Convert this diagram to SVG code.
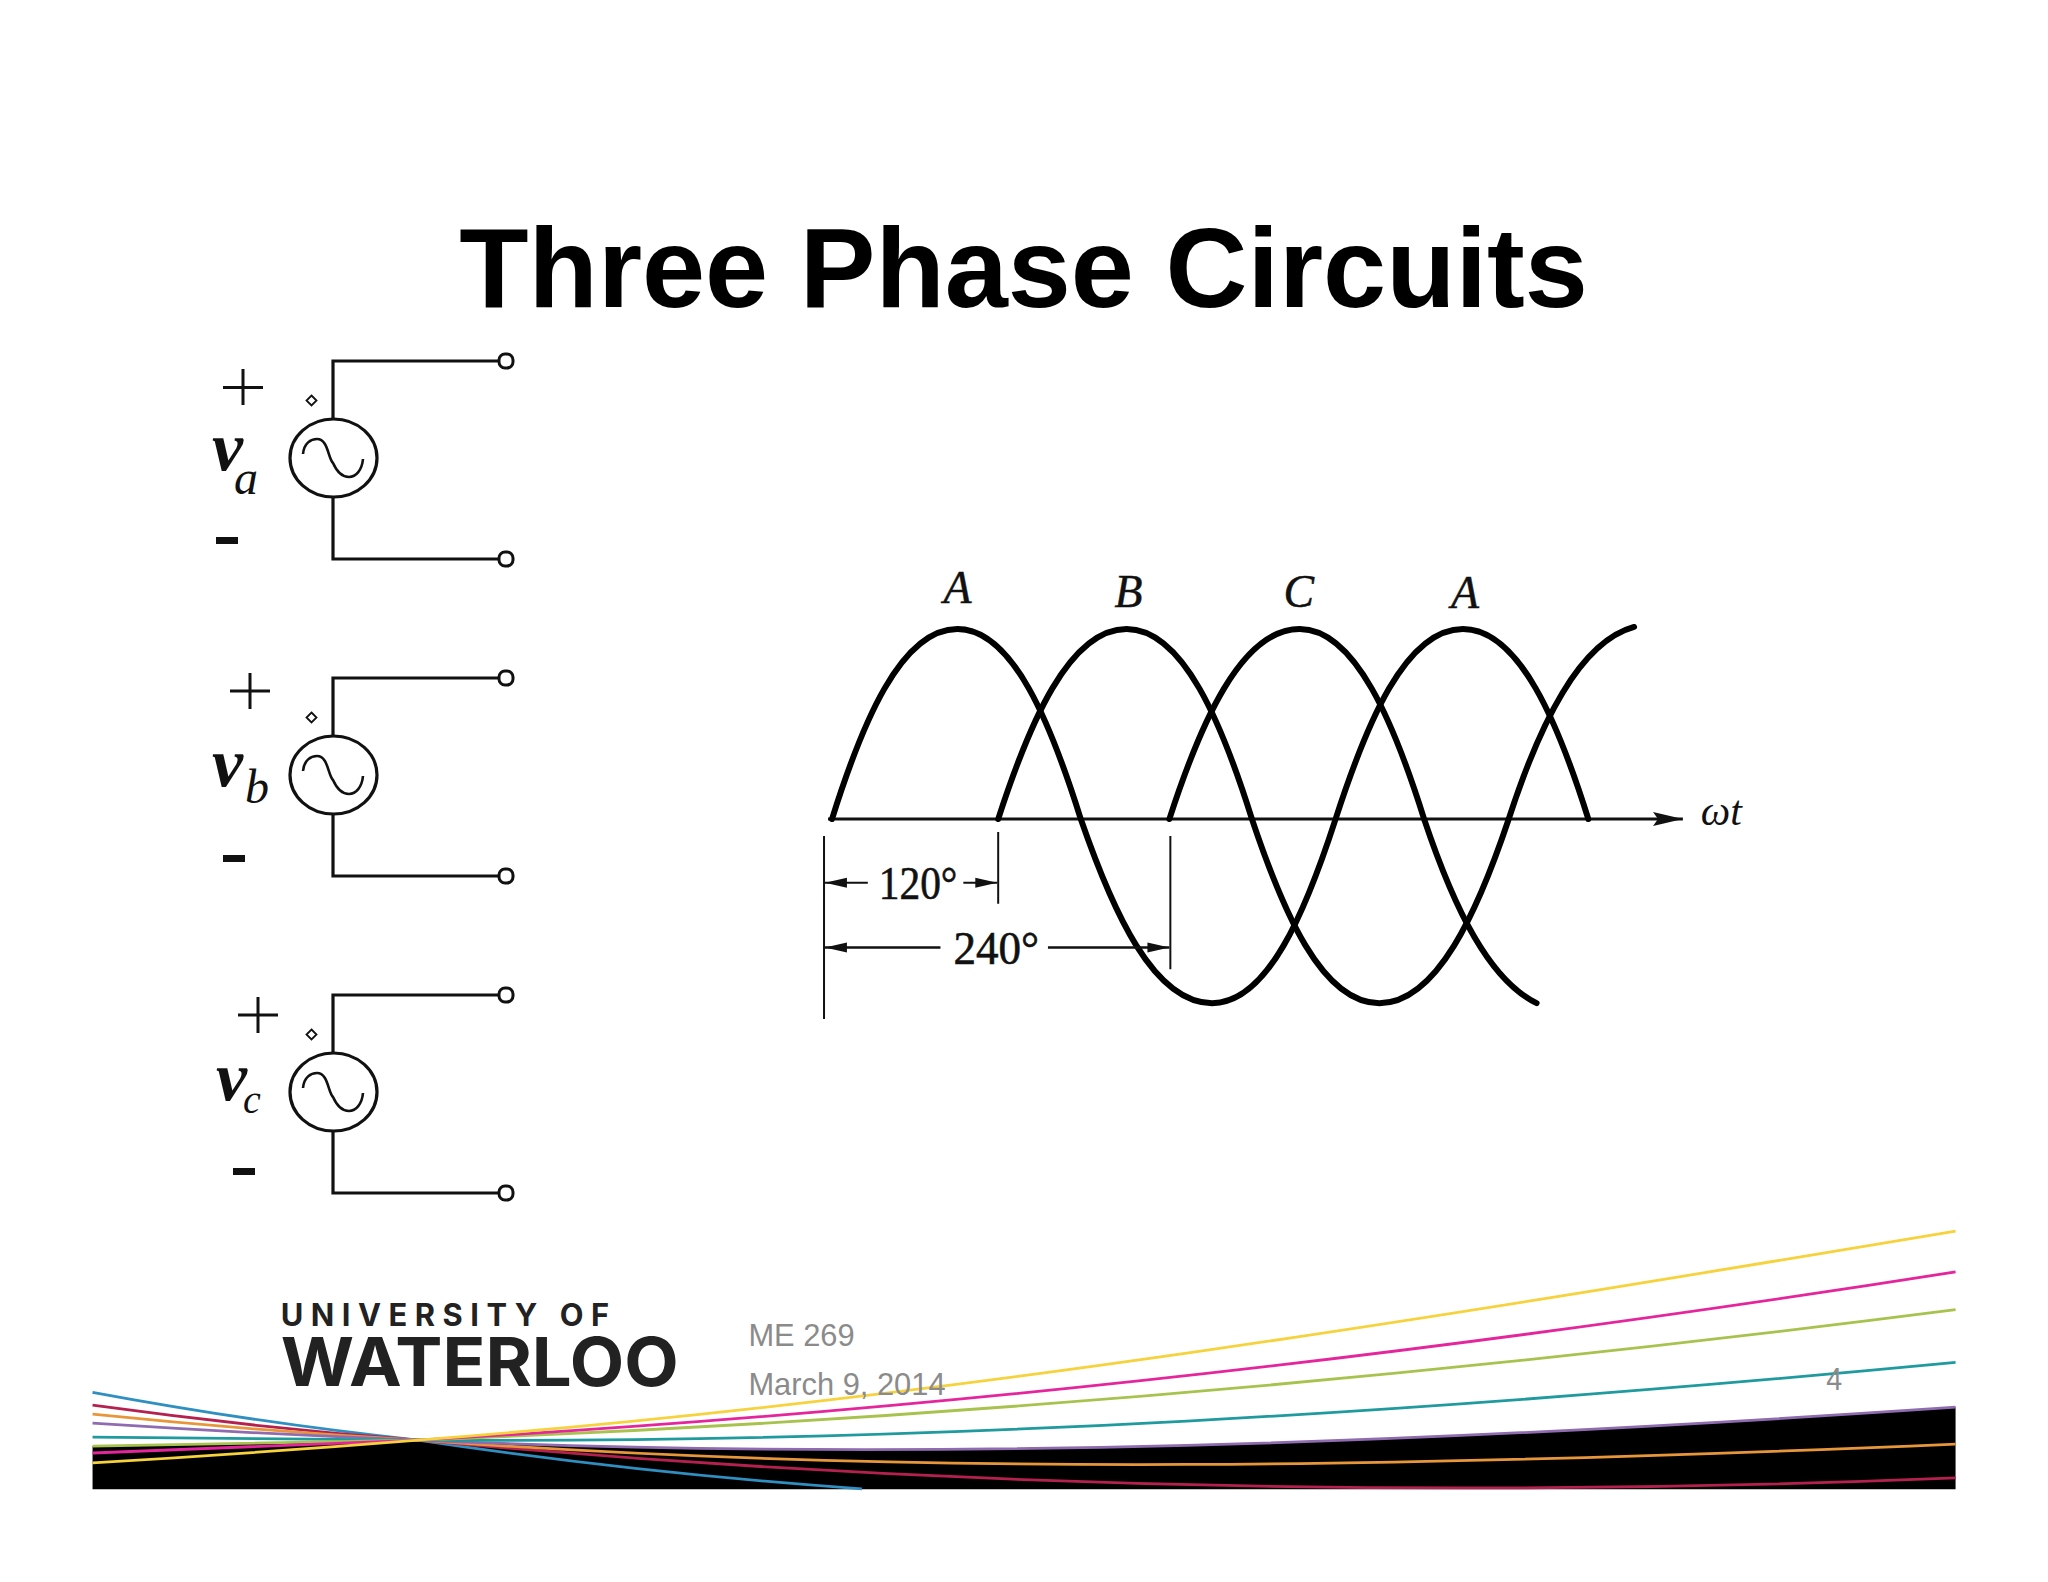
<svg xmlns="http://www.w3.org/2000/svg" width="2048" height="1582" viewBox="0 0 2048 1582">
<style>
.wire{fill:none;stroke:#111;stroke-width:3.2}
.term{fill:#fff;stroke:#111;stroke-width:3}
.src{fill:#fff;stroke:#111;stroke-width:3.2}
.sine{fill:none;stroke:#111;stroke-width:2.6}
.mark{fill:#fff;stroke:#111;stroke-width:1.8}
.sign{fill:none;stroke:#111;stroke-width:3}
.minus{fill:#111}
.v{font:italic 700 70px "Liberation Serif",serif;fill:#111}
.sub{font:italic 400 48px "Liberation Serif",serif;fill:#111}
.wave{fill:none;stroke:#000;stroke-width:6;stroke-linecap:round}
.axis{fill:none;stroke:#111;stroke-width:3}
.thin{fill:none;stroke:#111;stroke-width:2}
.dimline{fill:none;stroke:#111;stroke-width:2.6}
.lab{font:italic 400 46px "Liberation Serif",serif;fill:#111;text-anchor:middle;stroke:#111;stroke-width:.5}
.deg{font:400 46px "Liberation Serif",serif;fill:#111;stroke:#111;stroke-width:.6}
.foot{font:400 31px "Liberation Sans",Arial,sans-serif;fill:#8b8b8b}
.band{fill:none;stroke-width:2.8}
</style>
<defs>
<marker id="ah" markerUnits="userSpaceOnUse" markerWidth="32" markerHeight="16" refX="30" refY="8" orient="auto-start-reverse"><path d="M0,1 L30,8 L0,15 L5,8Z" fill="#111"/></marker>
<marker id="dim" markerUnits="userSpaceOnUse" markerWidth="24" markerHeight="12" refX="22" refY="6" orient="auto-start-reverse"><path d="M0,1 L22,6 L0,11Z" fill="#111"/></marker>
</defs>
<rect width="2048" height="1582" fill="#fff"/>
<text id="title" x="1028.500" y="308.500" transform="scale(.9952)" text-anchor="middle" style="font:700 114px 'Liberation Sans',Arial,sans-serif;fill:#000">Three Phase Circuits</text>

<g id="connectors">
<path class="wire" d="M333,419V361H499M333,497V559H499"/>
<path class="wire" d="M333,736V678H499M333,814V876H499"/>
<path class="wire" d="M333,1053V995H499M333,1131V1193H499"/>
</g>

<g id="source-a">
<ellipse class="src" cx="333.500" cy="458" rx="43.500" ry="39"/>
<path class="sine" d="M303,454C304,443 311,439 317,439C328,439 328,458 333,463C337,472 343,477 349,477C356,477 362,470 363,459"/>
<path class="mark" d="M311.500,395.500l5,5l-5,5l-5,-5Z"/>
<rect class="term" x="499" y="354" width="14" height="14" rx="6"/><rect class="term" x="499" y="552" width="14" height="14" rx="6"/>
<path class="sign" d="M223,387.500H263M243,369V405"/><rect class="minus" x="216" y="537" width="22" height="7"/>
<text class="v" x="212" y="470">v</text><text class="sub" x="234" y="494">a</text>
</g>
<g id="source-b">
<ellipse class="src" cx="333.500" cy="775" rx="43.500" ry="39"/>
<path class="sine" d="M303,771C304,760 311,756 317,756C328,756 328,775 333,780C337,789 343,794 349,794C356,794 362,787 363,776"/>
<path class="mark" d="M311.500,712.500l5,5l-5,5l-5,-5Z"/>
<rect class="term" x="499" y="671" width="14" height="14" rx="6"/><rect class="term" x="499" y="869" width="14" height="14" rx="6"/>
<path class="sign" d="M230,691H270M250,673V709"/><rect class="minus" x="223" y="855" width="22" height="7"/>
<text class="v" x="212" y="786">v</text><text class="sub" x="245" y="803">b</text>
</g>
<g id="source-c">
<ellipse class="src" cx="333.500" cy="1092" rx="43.500" ry="39"/>
<path class="sine" d="M303,1088C304,1077 311,1073 317,1073C328,1073 328,1092 333,1097C337,1106 343,1111 349,1111C356,1111 362,1104 363,1093"/>
<path class="mark" d="M311.500,1029.500l5,5l-5,5l-5,-5Z"/>
<rect class="term" x="499" y="988" width="14" height="14" rx="6"/><rect class="term" x="499" y="1186" width="14" height="14" rx="6"/>
<path class="sign" d="M238,1015H278M258,997V1033"/><rect class="minus" x="233" y="1168" width="22" height="7"/>
<text class="v" x="216" y="1100">v</text><text class="sub" x="243" y="1113" style="font-size:40px">c</text>
</g>

<g id="waveforms" transform="scale(.9952)">
<path class="axis" d="M832,823H1691" marker-end="url(#ah)"/>
<path class="wave" d="M836,823C866,727.500 905,632 962,632C1018,632 1056,727.500 1086,823C1118,915.500 1159,1008 1218,1008C1274,1008 1312,915.500 1342,823C1373,727.500 1412,632 1470,632C1527,632 1566,727.500 1596,823"/>
<path class="wave" d="M1003,823C1034,727.500 1074,632 1132,632C1189,632 1228,727.500 1258,823C1289,915.500 1328,1008 1386,1008C1444,1008 1485,915.500 1516,823C1547,727.500 1587,645 1642,630"/>
<path class="wave" d="M1175,823C1206,727.500 1247,632 1306,632C1362,632 1401,727.500 1431,823C1462,915.500 1497,985 1544,1008"/>
<text class="lab" x="962" y="606">A</text><text class="lab" x="1134" y="610">B</text><text class="lab" x="1305" y="610">C</text><text class="lab" x="1472" y="611">A</text>
<text x="1709" y="829" style="font:italic 400 42px 'Liberation Serif',serif;fill:#111">ωt</text>
</g>

<g id="phase-dimensions" transform="scale(.9952)">
<path class="thin" d="M828,840V1024M1003,836V908M1176,840V974"/>
<path class="thin" d="M872,887H829" marker-end="url(#dim)"/>
<path class="thin" d="M968,887H1002" marker-end="url(#dim)"/>
<path class="dimline" d="M945,952H829" marker-end="url(#dim)"/>
<path class="dimline" d="M1053,952H1175" marker-end="url(#dim)"/>
<text class="deg" x="883" y="903" textLength="79" lengthAdjust="spacingAndGlyphs">120°</text>
<text class="deg" x="958" y="969" textLength="86" lengthAdjust="spacingAndGlyphs">240°</text>
</g>

<g id="footer-band" transform="scale(.9952)">
<path fill="#000" d="M93,1453Q260,1450 420,1447C935,1470 1450,1449 1965,1414V1496.500H93Z"/>
<path class="band" stroke="#2f8fc0" d="M93,1399Q260,1430 420,1447Q640,1480 866,1496"/>
<path class="band" stroke="#b5214f" d="M93,1412Q260,1435 420,1447C935,1495 1450,1506 1965,1485"/>
<path class="band" stroke="#e8963a" d="M93,1421Q260,1438 420,1447C935,1485 1450,1473 1965,1451"/>
<path class="band" stroke="#8f6cb0" d="M93,1430Q260,1441 420,1447C935,1470 1450,1449 1965,1414"/>
<path class="band" stroke="#1f9a9e" d="M93,1444Q260,1446 420,1447C935,1451 1450,1418 1965,1369"/>
<path class="band" stroke="#a8c24e" d="M93,1453Q260,1450 420,1447C935,1428 1450,1382 1965,1316"/>
<path class="band" stroke="#e5259b" d="M93,1460Q260,1454 420,1447C935,1419 1450,1359 1965,1278"/>
<path class="band" stroke="#f6d23c" d="M93,1470Q260,1460 420,1447C935,1408 1450,1323 1965,1237"/>
</g>

<g id="logo" transform="scale(.9952)">
<text x="282" y="1332" textLength="330" style="font:700 31px Inter,'Liberation Sans',sans-serif;fill:#222">UNIVERSITY OF</text>
<text x="282" y="1393" textLength="400" lengthAdjust="spacingAndGlyphs" style="font:700 68px Inter,'Liberation Sans',sans-serif;fill:#222">WATERLOO</text>
</g>
<g id="footer-text" transform="scale(.9952)">
<text class="foot" x="752" y="1352">ME 269</text>
<text class="foot" x="752" y="1402">March 9, 2014</text>
<text class="foot" x="1835" y="1397" textLength="16" lengthAdjust="spacingAndGlyphs">4</text>
</g>
</svg>
